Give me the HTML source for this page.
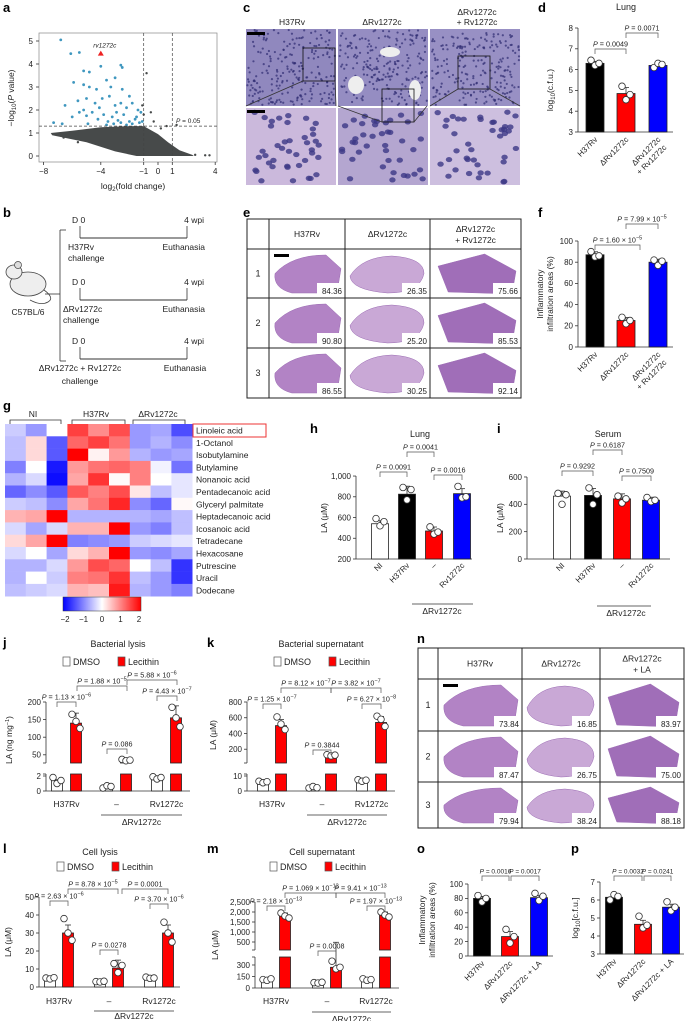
<!DOCTYPE html>
<html><head><meta charset="utf-8">
<style>
html,body{margin:0;padding:0;background:#fff;}
svg{display:block;font-family:"Liberation Sans",Arial,sans-serif;}
</style></head>
<body>
<svg id="fig" width="685" height="1021" viewBox="0 0 685 1021"></svg>
<script>
// ---------- data ----------
const volcanoBlue=[[-6.8,5.05],[-6.1,4.45],[-5.5,4.5],[-5.2,3.7],[-4.8,3.65],[-4.0,3.9],[-2.5,3.85],[-2.6,3.95],[-5.9,3.2],[-5.2,3.1],[-4.8,3.0],[-4.3,2.9],[-3.6,3.3],[-3.3,3.0],[-3.0,3.4],[-2.5,2.9],[-2.0,2.6],[-6.5,2.2],[-5.6,2.4],[-5.0,2.5],[-4.4,2.3],[-3.9,2.5],[-3.4,2.6],[-3.0,2.2],[-2.6,2.3],[-2.2,2.1],[-1.8,2.3],[-1.4,2.0],[-1.2,1.9],[-7.3,1.45],[-6.7,1.4],[-6.0,1.7],[-5.5,1.9],[-5.0,1.75],[-4.6,1.9],[-4.2,1.6],[-3.8,1.8],[-3.5,1.5],[-3.2,1.7],[-2.8,1.55],[-2.4,1.8],[-2.0,1.5],[-1.6,1.6],[-1.3,1.45],[-4.9,1.4],[-3.6,1.35],[-2.2,1.35],[-1.8,1.4],[-1.5,1.7],[-2.9,1.9],[-4.1,2.1],[-5.2,2.0],[-3.1,1.4],[-2.6,1.45],[-1.1,1.5]];
const volcanoGrey=[[-0.8,3.6],[-1.1,2.2],[-0.5,1.9],[-1.0,1.8],[0.2,1.2],[0.6,1.3],[2.6,0.05],[3.3,0.03],[3.6,0.03],[-7.2,0.95],[-6.6,0.8],[-5.6,0.6],[1.3,1.35],[-0.3,1.5]];
const volcanoCloud=[[-7.5,1.0],[-6,1.1],[-4,1.25],[-2,1.3],[-1,1.3],[0,0.95],[0.7,0.6],[1.5,0.25],[2.4,0.05],[2.5,0],[-1.5,0],[-3,0.2],[-5,0.6],[-7.4,0.9]];
const volcanoHit=[-4.0,4.45];

const heatRows=["Linoleic acid","1-Octanol","Isobutylamine","Butylamine","Nonanoic acid","Pentadecanoic acid","Glyceryl palmitate","Heptadecanoic acid","Icosanoic acid","Tetradecane","Hexacosane","Putrescine","Uracil","Dodecane"];
const heatVals=[
[-0.4,-0.8,0,1.5,0.9,1.4,-0.8,-0.7,-1.4],
[-0.5,0.3,-1.3,1.2,1.5,1.1,-0.8,-0.6,-0.9],
[-0.5,0.3,-1.3,2,0.1,0.8,-0.6,-0.8,-0.7],
[-1.0,0,-1.8,0.8,1.1,1.2,1.0,-0.1,-1.1],
[-0.6,-0.3,-1.9,0.7,1.6,0.05,1.0,0,-0.2],
[-1.2,-0.9,-1.3,1.3,1.0,1.4,0.2,-0.5,-0.2],
[-0.4,-0.5,-0.9,0.7,1.1,1.7,-0.9,-1.2,0.05],
[0.6,0.7,2.0,-0.6,-0.6,-0.6,-0.6,-0.7,-0.5],
[-0.3,-0.7,-0.3,0.6,0.6,2.0,-0.8,-1.0,-0.5],
[0.3,0.7,2.0,-1.0,-0.9,-0.8,-0.4,-0.3,-0.2],
[-0.3,0,-0.7,0.3,0.6,2.0,-0.8,-0.9,-0.7],
[-0.6,-0.6,-0.3,0.8,1.4,1.2,0,-0.5,-1.6],
[-0.6,0,-0.4,1.0,1.1,1.6,-0.5,-0.8,-1.6],
[-0.5,-0.4,-0.3,0.6,0.5,1.8,-0.6,-0.8,-1.0]];

const dMeans=[6.3,4.85,6.2]; const dPts=[[6.45,6.2,6.3],[5.2,4.55,4.8],[6.1,6.3,6.25]];
const fMeans=[87,25,80]; const fPts=[[90,85,86],[28,22,25],[82,77,81]];
const hMeans=[540,825,470,830]; const hPts=[[590,520,560],[890,770,870],[510,440,460],[900,790,800]];
const iMeans=[460,465,440,430]; const iPts=[[480,400,470],[520,400,470],[460,410,440],[450,420,430]];
const jDmso=[1.5,0.6,1.8]; const jLec=[140,35,155]; const jDpts=[[1.8,1.0,1.4],[0.4,0.7,0.6],[1.9,1.6,1.8]]; const jLpts=[[165,145,125],[37,33,35],[185,155,130]];
const kDmso=[6,2.5,7]; const kLec=[500,120,540]; const kDpts=[[6.5,5.5,6.2],[2,3,2.2],[7.5,6.5,7.2]]; const kLpts=[[610,520,450],[130,115,125],[620,580,490]];
const lDmso=[5,3,5]; const lLec=[30,10.5,30]; const lDpts=[[5,4.5,5.2],[3,2.8,3.2],[5.5,4.8,5]]; const lLpts=[[38,30,26],[13,8,12],[36,30,25]];
const mDmso=[110,70,110]; const mLec=[1800,270,1850]; const mDpts=[[110,100,120],[70,65,75],[120,100,110]]; const mLpts=[[1950,1800,1700],[350,250,270],[2000,1850,1750]];
const oMeans=[80,27,81]; const oPts=[[84,75,80],[37,18,27],[87,77,83]];
const pMeans=[6.15,4.65,5.6]; const pPts=[[6.0,6.3,6.2],[5.1,4.45,4.6],[5.9,5.4,5.6]];
const eScores=[[84.36,26.35,75.66],[90.80,25.20,85.53],[86.55,30.25,92.14]];
const nScores=[[73.84,16.85,83.97],[87.47,26.75,75.00],[79.94,38.24,88.18]];

// ---------- helpers ----------
const NS='http://www.w3.org/2000/svg';
const svg=document.getElementById('fig');
function mk(tag,attrs,name,parent){
  const el=document.createElementNS(NS,tag);
  for(const k in attrs) el.setAttribute(k,attrs[k]);
  
  
  (parent||svg).appendChild(el);
  return el;
}
function txt(x,y,html,name,fs,anchor,extra){
  const a={x:x,y:y,'font-size':fs||8,'text-anchor':anchor||'middle',fill:'#222'};
  if(extra) for(const k in extra) a[k]=extra[k];
  const t=mk('text',a,name);
  t.innerHTML=html;
  return t;
}
function sup(s){return '<tspan dy="-3" font-size="5.5">'+s+'</tspan>';}
function P(v){return '<tspan font-style="italic">P</tspan> = '+v;}
function Pe(m,e){return P(m+' × 10'+sup(e));}
function line(x1,y1,x2,y2,name,w,col,dash){
  const a={x1:x1,y1:y1,x2:x2,y2:y2,stroke:col||'#333','stroke-width':w||0.8};
  if(dash) a['stroke-dasharray']=dash;
  return mk('line',a,name);
}
function letter(x,y,s){txt(x,y,s,'panel-label-'+s,13,'start',{'font-weight':'bold',fill:'#000'});}
function bracket(x1,x2,y,label,name,fs){
  mk('path',{d:`M${x1},${y+5}V${y}H${x2}V${y+5}`,fill:'none',stroke:'#555','stroke-width':0.7},name+'-bracket');
  txt((x1+x2)/2,y-2.5,label,name+'-label',fs||7.2);
}
function dot(x,y,name){mk('circle',{cx:x,cy:y,r:3.3,fill:'#fff',stroke:'#333','stroke-width':0.8},name);}
function yAxis(x,ys,vals,labels,name,y0,y1){
  line(x,y0,x,y1,name+'-line',0.8);
  vals.forEach((v,i)=>{const y=ys(v);line(x-3,y,x,y,name+'-tick');txt(x-5,y+2.8,labels[i],name+'-tick-label',8,'end');});
}
function bar(cx,w,ytop,ybase,color,name){
  mk('rect',{x:cx-w/2,y:Math.min(ytop,ybase),width:w,height:Math.abs(ybase-ytop),fill:color,stroke:'#222','stroke-width':0.8},name);
}
function errBar(cx,ym,ye,name){line(cx,ym,cx,ye,name,0.8);line(cx-3,ye,cx+3,ye,name+'-cap',0.8);}
function pts(cx,ys,vals,name){const off=[-4,0,4];vals.forEach((v,i)=>dot(cx+off[i],ys(v),name));}
function rotLabel(x,y,s,name,fs){txt(x,y,s,name,fs||8,'end',{transform:`rotate(-45 ${x} ${y})`});}
function simpleBars(cfg){
  cfg.means.forEach((m,i)=>{
    const cx=cfg.xs[i];
    errBar(cx,cfg.y(m),cfg.y(m)-cfg.err[i],cfg.name+'-error');
    bar(cx,cfg.w,cfg.y(m),cfg.base,cfg.colors[i],cfg.name+'-bar-'+i);
    pts(cx,cfg.y,cfg.pts[i],cfg.name+'-point');
  });
}
// decorative texture hash (not chart data)
function hsh(a,b){const s=Math.sin(a*12.9898+b*78.233)*43758.5453;return s-Math.floor(s);}

// ---------- panel a: volcano ----------
letter(3,12,'a');
const aX=v=>158+v*14.3, aY=v=>156-v*23;
mk('rect',{x:39,y:33,width:178,height:129,fill:'none',stroke:'#888','stroke-width':0.7},'volcano-plot-frame');
mk('path',{d:'M'+volcanoCloud.map(p=>aX(p[0])+','+aY(p[1])).join('L')+'Z',fill:'#474a4a'},'volcano-nonsignificant-cloud');
volcanoGrey.forEach(p=>mk('circle',{cx:aX(p[0]),cy:aY(p[1]),r:1.2,fill:'#474a4a'},'volcano-grey-point'));
volcanoBlue.forEach(p=>mk('circle',{cx:aX(p[0]),cy:aY(p[1]),r:1.4,fill:'#3f97bf'},'volcano-blue-point'));
{const x=aX(volcanoHit[0]),y=aY(volcanoHit[1]);mk('path',{d:`M${x},${y-3}L${x+3},${y+2}L${x-3},${y+2}Z`,fill:'#e22'},'rv1272c-marker');}
txt(aX(-4)+4,aY(4.45)-6,'<tspan font-style="italic">rv1272c</tspan>','rv1272c-label',6.5);
line(aX(-1),33,aX(-1),162,'fold-threshold-left',0.7,'#444','3,2');
line(aX(1),33,aX(1),162,'fold-threshold-right',0.7,'#444','3,2');
line(39,aY(1.3),217,aY(1.3),'p-threshold-line',0.7,'#444','3,2');
txt(176,123,P('0.05'),'p-threshold-label',6.5,'start');
[0,1,2,3,4,5].forEach(v=>{line(36,aY(v),39,aY(v),'volcano-y-tick');txt(33,aY(v)+2.8,v,'volcano-y-tick-label',8,'end');});
[-8,-4,-1,0,1,4].forEach(v=>{line(aX(v),162,aX(v),165,'volcano-x-tick');txt(aX(v),174,v<0?'−'+Math.abs(v):v,'volcano-x-tick-label',8);});
txt(133,189,'log'+'<tspan dy="2" font-size="6">2</tspan><tspan dy="-2">(fold change)</tspan>','volcano-x-title',8.5);
txt(14,98,'−log'+'<tspan dy="2" font-size="6">10</tspan><tspan dy="-2">(</tspan><tspan font-style="italic">P</tspan> value)','volcano-y-title',8.5,'middle',{transform:'rotate(-90 14 98)'});

// ---------- panel c: histology ----------
letter(243,12,'c');
txt(292,25,'H37Rv','c-col-h37rv',8.5);txt(382,25,'ΔRv1272c','c-col-mutant',8.5);
txt(477,15,'ΔRv1272c','c-col-comp',8.5);txt(477,25,'+ Rv1272c','c-col-comp2',8.5);
const cCols=[246,338,430];
cCols.forEach((x,i)=>{
  mk('rect',{x:x,y:29,width:90,height:77,fill:['#9088be','#958dc2','#9890c4'][i]},'histology-low-mag-'+i);
  for(let k=1;k<220;k++){mk('circle',{cx:x+1+hsh(k,i+1)*88,cy:30+hsh(k+500,i+7)*75,r:1.1,fill:'#2f2c72',opacity:0.7},'cell-dot');}
  mk('rect',{x:x,y:108,width:90,height:77,fill:['#cbb9dc','#b4a6d0','#cdbfdf'][i]},'histology-high-mag-'+i);
  for(let k=1;k<42;k++){mk('ellipse',{cx:x+4+hsh(k+900,i+3)*82,cy:112+hsh(k+1300,i+11)*70,rx:3.2,ry:2.6,fill:'#3c3886',opacity:0.8},'nucleus');}
});
mk('ellipse',{cx:390,cy:52,rx:10,ry:5,fill:'#eee'},'airspace');mk('ellipse',{cx:356,cy:85,rx:8,ry:9,fill:'#eee'},'airspace');mk('ellipse',{cx:415,cy:90,rx:6,ry:10,fill:'#eee'},'airspace');
mk('rect',{x:303,y:48,width:32,height:33,fill:'none',stroke:'#111','stroke-width':0.8},'inset-box-1');
mk('rect',{x:382,y:89,width:32,height:33,fill:'none',stroke:'#111','stroke-width':0.8},'inset-box-2');
mk('rect',{x:458,y:56,width:32,height:33,fill:'none',stroke:'#111','stroke-width':0.8},'inset-box-3');
line(303,81,246,106,'inset-line');line(335,81,336,106,'inset-line');
line(382,122,338,106,'inset-line');line(414,122,427,106,'inset-line');
line(458,89,430,106,'inset-line');line(490,89,520,106,'inset-line');
mk('rect',{x:247,y:32,width:18,height:3,fill:'#000'},'scale-bar');mk('rect',{x:247,y:110,width:18,height:3,fill:'#000'},'scale-bar-2');

// ---------- panel d ----------
letter(538,12,'d');txt(626,10,'Lung','d-title',9);
const dY=v=>132-(v-3)*20.8;
yAxis(578,dY,[3,4,5,6,7,8],['3','4','5','6','7','8'],'d-y-axis',dY(8),dY(3));
line(578,132,673,132,'d-x-axis');
simpleBars({means:dMeans,pts:dPts,xs:[595,626,658],w:18,y:dY,base:132,colors:['#000','#f00','#00f'],err:[2,6,2],name:'d'});
bracket(595,626,49,P('0.0049'),'d-p1');bracket(626,658,33,P('0.0071'),'d-p2');
txt(553,90,'log<tspan dy="2" font-size="6">10</tspan><tspan dy="-2">(c.f.u.)</tspan>','d-y-title',8.5,'middle',{transform:'rotate(-90 553 90)'});
rotLabel(598,140,'H37Rv','d-x-h37rv');rotLabel(629,140,'ΔRv1272c','d-x-mutant');rotLabel(661,140,'ΔRv1272c','d-x-comp');rotLabel(667,148,'+ Rv1272c','d-x-comp2');

// ---------- panel b ----------
letter(3,217,'b');
line(60,230,60,361,'b-tree-line');line(60,230,66,230,'b-tree-top');line(60,361,66,361,'b-tree-bottom');line(45,294,60,294,'b-tree-stem');
[[238,'H37Rv','challenge'],[300,'ΔRv1272c','challenge'],[359,'ΔRv1272c + Rv1272c','challenge']].forEach((r,i)=>{
  const y=r[0];
  txt(72,y-15,'D 0','b-day0-'+i,8.5,'start');txt(204,y-15,'4 wpi','b-4wpi-'+i,8.5,'end');
  line(80,y-12,80,y,'b-arrow-start-'+i);line(187,y-12,187,y,'b-arrow-end-'+i);
  line(80,y,187,y,'b-timeline-'+i,1);
  if(i<2){txt(i?63:68,y+12,r[1],'b-strain-'+i,8.5,'start');txt(i?63:68,y+23,r[2],'b-challenge-'+i,8.5,'start');txt(205,y+12,'Euthanasia','b-euth-'+i,8.5,'end');}
  else{txt(80,y+12,r[1],'b-strain-'+i,8.5);txt(80,y+25,r[2],'b-challenge-'+i,8.5);txt(185,y+12,'Euthanasia','b-euth-'+i,8.5);}
});
mk('ellipse',{cx:28,cy:284,rx:18,ry:12,fill:'#eee',stroke:'#444','stroke-width':0.8},'mouse-body');
mk('ellipse',{cx:14,cy:272,rx:8,ry:7,fill:'#eee',stroke:'#444','stroke-width':0.8},'mouse-head');
mk('circle',{cx:18,cy:265,r:3.5,fill:'#ddd',stroke:'#444','stroke-width':0.7},'mouse-ear');
mk('path',{d:'M44,290 Q55,298 48,302 T30,300',fill:'none',stroke:'#444','stroke-width':0.8},'mouse-tail');
txt(28,315,'C57BL/6','b-mouse-label',8.5);

// ---------- panels e and n: lung tables ----------
function lungTable(cols,rows,hdr,scores,name){
  mk('rect',{x:cols[0],y:rows[0],width:cols[4]-cols[0],height:rows[4]-rows[0],fill:'none',stroke:'#222','stroke-width':1},name+'-frame');
  cols.slice(1,4).forEach(c=>line(c,rows[0],c,rows[4],name+'-col-line',1,'#222'));
  rows.slice(1,4).forEach(r=>line(cols[0],r,cols[4],r,name+'-row-line',1,'#222'));
  hdr.forEach((h,i)=>{const cx=(cols[i+1]+cols[i+2])/2;const my=(rows[0]+rows[1])/2;
    if(h.length===1)txt(cx,my+3,h[0],name+'-header-'+i,8.5);else{txt(cx,my-2,h[0],name+'-header-'+i,8.5);txt(cx,my+9,h[1],name+'-header-'+i+'b',8.5);}});
  for(let r=0;r<3;r++){
    txt((cols[0]+cols[1])/2,(rows[r+1]+rows[r+2])/2+3,r+1,name+'-row-label',9);
    for(let c=0;c<3;c++){
      const x1=cols[c+1],x2=cols[c+2],y1=rows[r+1],y2=rows[r+2];const w=x2-x1,h=y2-y1;
      const s=(r*3+c)%3;
      const pth=s===0?`M${x1+6},${y1+h*0.5} Q${x1+w*0.3},${y1+6} ${x1+w*0.75},${y1+6} L${x2-4},${y1+h*0.4} L${x2-8},${y2-5} L${x1+w*0.3},${y2-5} Q${x1+4},${y2-10} ${x1+6},${y1+h*0.5}Z`
        :s===1?`M${x1+5},${y1+h*0.55} Q${x1+w*0.2},${y1+8} ${x1+w*0.55},${y1+7} Q${x2-6},${y1+9} ${x2-6},${y1+h*0.5} Q${x2-10},${y2-5} ${x1+w*0.5},${y2-5} Q${x1+6},${y2-8} ${x1+5},${y1+h*0.55}Z`
        :`M${x1+8},${y1+h*0.35} L${x1+w*0.6},${y1+5} L${x2-5},${y1+h*0.45} L${x2-9},${y2-4} L${x1+w*0.2},${y2-6} Z`;
      mk('path',{d:pth,fill:['#b283c5','#c9a8d6','#a06eb8'][c],stroke:'#9b6cb3','stroke-width':0.5},name+'-lung-section');
      mk('rect',{x:x2-28,y:y2-15,width:27,height:14,fill:'#fff'},name+'-score-box');
      txt(x2-3,y2-4,scores[r][c].toFixed(2),name+'-score',8,'end');
    }
  }
  mk('rect',{x:cols[1]+5,y:rows[1]+5,width:15,height:3,fill:'#000'},name+'-scale-bar');
}
letter(243,217,'e');
lungTable([247,269,345,430,521],[219,249,298,348,398],[['H37Rv'],['ΔRv1272c'],['ΔRv1272c','+ Rv1272c']],eScores,'e');
letter(417,643,'n');
lungTable([418,438,522,600,684],[648,679,731,782,828],[['H37Rv'],['ΔRv1272c'],['ΔRv1272c','+ LA']],nScores,'n');

// ---------- panel f ----------
letter(538,217,'f');
const fY=v=>347-v*1.06;
yAxis(578,fY,[0,20,40,60,80,100],['0','20','40','60','80','100'],'f-y-axis',fY(100),fY(0));
line(578,347,673,347,'f-x-axis');
simpleBars({means:fMeans,pts:fPts,xs:[595,626,658],w:18,y:fY,base:347,colors:['#000','#f00','#00f'],err:[3,3,3],name:'f'});
bracket(595,640,245,Pe('1.60','−5'),'f-p1');bracket(626,658,224,Pe('7.99','−5'),'f-p2');
txt(543,294,'Inflammatory','f-y-title',8.5,'middle',{transform:'rotate(-90 543 294)'});
txt(553,294,'infiltration areas (%)','f-y-title-2',8.5,'middle',{transform:'rotate(-90 553 294)'});
rotLabel(598,355,'H37Rv','f-x-h37rv');rotLabel(629,355,'ΔRv1272c','f-x-mutant');rotLabel(661,355,'ΔRv1272c','f-x-comp');rotLabel(667,363,'+ Rv1272c','f-x-comp2');

// ---------- panel g heatmap ----------
letter(3,410,'g');
[['NI',33,10,61],['H37Rv',96,72,125],['ΔRv1272c',158,133,185]].forEach((g,i)=>{
  txt(g[1],417,g[0],'g-group-label-'+i,8.5);
  mk('path',{d:`M${g[2]},${425}V${420}H${g[3]}V${425}`,fill:'none',stroke:'#333','stroke-width':0.8},'g-group-bracket-'+i);
});
function hcol(v){const t=Math.max(-1,Math.min(1,v/2));
  if(t>=0){const g=Math.round(255*(1-t));return `rgb(255,${g},${g})`;}
  const g=Math.round(255*(1+t));return `rgb(${g},${g},255)`;}
const hx=5,hw=20.8,hy=424,hh=12.3;
heatVals.forEach((row,r)=>{
  row.forEach((v,c)=>mk('rect',{x:hx+c*hw,y:hy+r*hh,width:hw+0.3,height:hh+0.3,fill:hcol(v)},'heat-cell'));
  txt(196,hy+r*hh+9.5,heatRows[r],'heat-row-label',8.5,'start');
});
mk('rect',{x:193,y:424,width:73,height:13,fill:'none',stroke:'#e33','stroke-width':1},'linoleic-highlight');
const cbar=mk('defs',{},'colorbar-defs');
cbar.innerHTML='<linearGradient id="cb"><stop offset="0" stop-color="#00f"/><stop offset="0.5" stop-color="#fff"/><stop offset="1" stop-color="#f00"/></linearGradient>';
mk('rect',{x:63,y:597,width:78,height:14,fill:'url(#cb)',stroke:'#333','stroke-width':0.5},'colorbar');
[-2,-1,0,1,2].forEach((v,i)=>txt(65+i*18.5,622,v<0?'−'+(-v):v,'colorbar-tick',8));

// ---------- panel h ----------
letter(310,433,'h');txt(420,437,'Lung','h-title',9);
const hY=v=>559-(v-200)*0.1037;
yAxis(356,hY,[200,400,600,800,1000],['200','400','600','800','1,000'],'h-y-axis',hY(1000),hY(200));
line(356,559,472,559,'h-x-axis');
simpleBars({means:hMeans,pts:hPts,xs:[380,407,434,462],w:17,y:hY,base:559,colors:['#fff','#000','#f00','#00f'],err:[3,8,4,5],name:'h'});
bracket(380,407,472,P('0.0091'),'h-p1');bracket(407,434,452,P('0.0041'),'h-p2');bracket(434,462,475,P('0.0016'),'h-p3');
txt(327,518,'LA (μM)','h-y-title',8.5,'middle',{transform:'rotate(-90 327 518)'});
rotLabel(383,566,'NI','h-x-ni');rotLabel(410,566,'H37Rv','h-x-h37rv');rotLabel(437,566,'–','h-x-minus');rotLabel(465,566,'Rv1272c','h-x-comp');
line(412,604,473,604,'h-group-line');txt(442,614,'ΔRv1272c','h-group-label',8.5);

// ---------- panel i ----------
letter(497,433,'i');txt(608,437,'Serum','i-title',9);
const iY=v=>559-v*0.1367;
yAxis(527,iY,[0,200,400,600],['0','200','400','600'],'i-y-axis',iY(600),iY(0));
line(527,559,670,559,'i-x-axis');
simpleBars({means:iMeans,pts:iPts,xs:[562,593,622,651],w:17,y:iY,base:559,colors:['#fff','#000','#f00','#00f'],err:[5,7,5,3],name:'i'});
bracket(562,593,471,P('0.9292'),'i-p1');bracket(593,622,450,P('0.6187'),'i-p2');bracket(622,651,476,P('0.7509'),'i-p3');
txt(503,518,'LA (μM)','i-y-title',8.5,'middle',{transform:'rotate(-90 503 518)'});
rotLabel(565,566,'NI','i-x-ni');rotLabel(596,566,'H37Rv','i-x-h37rv');rotLabel(625,566,'–','i-x-minus');rotLabel(654,566,'Rv1272c','i-x-comp');
line(597,606,651,606,'i-group-line');txt(626,616,'ΔRv1272c','i-group-label',8.5);

// ---------- broken axis grouped charts ----------
function legend(x,y,name){
  mk('rect',{x:x,y:y-8,width:7,height:9,fill:'#fff',stroke:'#555','stroke-width':0.7},name+'-legend-dmso-swatch');
  txt(x+10,y,'DMSO','legend-dmso',9,'start');
  mk('rect',{x:x+55,y:y-8,width:7,height:9,fill:'#f00',stroke:'#555','stroke-width':0.7},name+'-legend-lecithin-swatch');
  txt(x+65,y,'Lecithin','legend-lecithin',9,'start');
}
function grouped(c){
  line(c.ax,c.yu(c.uTop),c.ax,c.uBot,c.name+'-y-axis-upper');line(c.ax-3,c.uBot,c.ax,c.uBot,c.name+'-break-tick');
  line(c.ax,c.lTop,c.ax,c.yl(0),c.name+'-y-axis-lower');line(c.ax-3,c.lTop,c.ax,c.lTop,c.name+'-break-tick');
  c.uTicks.forEach((v,i)=>{line(c.ax-3,c.yu(v),c.ax,c.yu(v),c.name+'-tick');txt(c.ax-5,c.yu(v)+2.8,c.uLab[i],c.name+'-tick-label',8,'end');});
  c.lTicks.forEach((v,i)=>{line(c.ax-3,c.yl(v),c.ax,c.yl(v),c.name+'-tick');txt(c.ax-5,c.yl(v)+2.8,c.lLab[i],c.name+'-tick-label',8,'end');});
  line(c.ax,c.yl(0),c.xs[5]+14,c.yl(0),c.name+'-x-axis');
  for(let g=0;g<3;g++){
    const xd=c.xs[g*2],xl=c.xs[g*2+1];
    bar(xd,c.w,c.yl(c.dmso[g]),c.yl(0),'#fff',c.name+'-dmso-bar');
    pts(xd,c.yl,c.dpts[g],c.name+'-dmso-point');
    const m=c.lec[g];
    if(m>c.brk){
      bar(xl,c.w,c.lTop,c.yl(0),'#f00',c.name+'-lecithin-bar-lower');
      bar(xl,c.w,c.yu(m),c.uBot,'#f00',c.name+'-lecithin-bar-upper');
      errBar(xl,c.yu(m),c.yu(m)-c.err[g],c.name+'-lecithin-error');
      pts(xl,c.yu,c.lpts[g],c.name+'-lecithin-point');
    } else if(c.smallInUpper){
      bar(xl,c.w,c.lTop,c.yl(0),'#f00',c.name+'-lecithin-bar-lower');
      pts(xl,c.yu,c.lpts[g],c.name+'-lecithin-point');
    } else {
      bar(xl,c.w,c.yl(m),c.yl(0),'#f00',c.name+'-lecithin-bar');
      errBar(xl,c.yl(m),c.yl(m)-c.err[g],c.name+'-lecithin-error');
      pts(xl,c.yl,c.lpts[g],c.name+'-lecithin-point');
    }
  }
  const ly=c.yl(0);
  txt((c.xs[0]+c.xs[1])/2,ly+16,'H37Rv',c.name+'-x-h37rv',8.5);
  txt((c.xs[2]+c.xs[3])/2,ly+16,'–',c.name+'-x-minus',8.5);
  txt((c.xs[4]+c.xs[5])/2,ly+16,'Rv1272c',c.name+'-x-comp',8.5);
  line(c.xs[2]-6,ly+24,c.xs[5]+6,ly+24,c.name+'-group-line');
  txt((c.xs[2]+c.xs[5])/2,ly+34,'ΔRv1272c',c.name+'-group-label',8.5);
}

// j
letter(3,647,'j');txt(118,647,'Bacterial lysis','j-title',9);legend(63,665,'j');
grouped({name:'j',ax:46,xs:[57,76,107,126,157,176],w:11,yu:v=>702+(200-v)*0.352,yl:v=>791-v*7.5,brk:3,uTop:200,uBot:763,lTop:774,
 uTicks:[50,100,150,200],uLab:['50','100','150','200'],lTicks:[0,2],lLab:['0','2'],dmso:jDmso,lec:jLec,dpts:jDpts,lpts:jLpts,err:[10,0,12],smallInUpper:true});
bracket(57,76,702,Pe('1.13','−6'),'j-p1');bracket(77,127,686,Pe('1.88','−5'),'j-p2');bracket(127,177,680,Pe('5.88','−6'),'j-p3');
bracket(157,177,696,Pe('4.43','−7'),'j-p4');bracket(107,127,749,P('0.086'),'j-p5');
txt(12,740,'LA (ng mg<tspan dy="-3" font-size="5.5">−1</tspan><tspan dy="3">)</tspan>','j-y-title',8.5,'middle',{transform:'rotate(-90 12 740)'});

// k
letter(207,647,'k');txt(321,647,'Bacterial supernatant','k-title',9);legend(274,665,'k');
grouped({name:'k',ax:247,xs:[263,281,313,331,362,381],w:11,yu:v=>702+(800-v)*0.0787,yl:v=>791-v*1.5,brk:15,uTop:800,uBot:763,lTop:774,
 uTicks:[200,400,600,800],uLab:['200','400','600','800'],lTicks:[0,10],lLab:['0','10'],dmso:kDmso,lec:kLec,dpts:kDpts,lpts:kLpts,err:[6,0,6],smallInUpper:true});
bracket(263,281,704,Pe('1.25','−7'),'k-p1');bracket(281,331,688,Pe('8.12','−7'),'k-p2');bracket(331,381,688,Pe('3.82','−7'),'k-p3');
bracket(362,381,704,Pe('6.27','−8'),'k-p4');bracket(313,331,750,P('0.3844'),'k-p5');
txt(216,735,'LA (μM)','k-y-title',8.5,'middle',{transform:'rotate(-90 216 735)'});

// l (single axis)
letter(3,853,'l');txt(100,855,'Cell lysis','l-title',9);legend(57,870,'l');
{const lY=v=>987-v*1.8;
 yAxis(39,lY,[0,10,20,30,40,50],['0','10','20','30','40','50'],'l-y-axis',lY(50),lY(0));
 line(39,987,180,987,'l-x-axis');
 const xs=[50,68,100,118,150,168];
 for(let g=0;g<3;g++){
   bar(xs[g*2],11,lY(lDmso[g]),987,'#fff','l-dmso-bar');pts(xs[g*2],lY,lDpts[g],'l-dmso-point');
   errBar(xs[g*2+1],lY(lLec[g]),lY(lLec[g])-8,'l-lecithin-error');
   bar(xs[g*2+1],11,lY(lLec[g]),987,'#f00','l-lecithin-bar');pts(xs[g*2+1],lY,lLpts[g],'l-lecithin-point');
 }
 txt(59,1004,'H37Rv','l-x-h37rv',8.5);txt(109,1004,'–','l-x-minus',8.5);txt(159,1004,'Rv1272c','l-x-comp',8.5);
 line(94,1011,174,1011,'l-group-line');txt(134,1019,'ΔRv1272c','l-group-label',8.5);
 bracket(50,68,901,Pe('2.63','−6'),'l-p1');bracket(68,118,889,Pe('8.78','−5'),'l-p2');bracket(122,168,889,P('0.0001'),'l-p3');
 bracket(150,168,904,Pe('3.70','−6'),'l-p4');bracket(100,118,950,P('0.0278'),'l-p5');
 txt(11,942,'LA (μM)','l-y-title',8.5,'middle',{transform:'rotate(-90 11 942)'});}

// m
letter(207,853,'m');txt(322,855,'Cell supernatant','m-title',9);legend(270,870,'m');
grouped({name:'m',ax:255,xs:[267,285,318,336,367,385],w:11,yu:v=>942-(v-500)*0.02,yl:v=>988-v*0.0767,brk:400,uTop:2500,uBot:950,lTop:957,
 uTicks:[500,1000,1500,2000,2500],uLab:['500','1,000','1,500','2,000','2,500'],lTicks:[0,150,300],lLab:['0','150','300'],dmso:mDmso,lec:mLec,dpts:mDpts,lpts:mLpts,err:[3,25,3]});
bracket(267,285,906,Pe('2.18','−13'),'m-p1');bracket(285,336,893,Pe('1.069','−12'),'m-p2');bracket(336,385,893,Pe('9.41','−13'),'m-p3');
bracket(367,385,906,Pe('1.97','−13'),'m-p4');bracket(318,336,951,P('0.0008'),'m-p5');
txt(218,945,'LA (μM)','m-y-title',8.5,'middle',{transform:'rotate(-90 218 945)'});

// o
letter(417,853,'o');
const oY=v=>956-v*0.72;
yAxis(468,oY,[0,20,40,60,80,100],['0','20','40','60','80','100'],'o-y-axis',oY(100),oY(0));
line(468,956,553,956,'o-x-axis');
simpleBars({means:oMeans,pts:oPts,xs:[482,510,539],w:17,y:oY,base:956,colors:['#000','#f00','#00f'],err:[2,5,2],name:'o'});
bracket(482,509,876,P('0.0016'),'o-p1',6.5);bracket(511,539,876,P('0.0017'),'o-p2',6.5);
txt(425,920,'Inflammatory','o-y-title',8.5,'middle',{transform:'rotate(-90 425 920)'});
txt(435,920,'infiltration areas (%)','o-y-title-2',8.5,'middle',{transform:'rotate(-90 435 920)'});
rotLabel(485,964,'H37Rv','o-x-h37rv');rotLabel(513,964,'ΔRv1272c','o-x-mutant');rotLabel(542,964,'ΔRv1272c + LA','o-x-comp');

// p
letter(571,853,'p');
const pY=v=>954-(v-3)*18;
yAxis(600,pY,[3,4,5,6,7],['3','4','5','6','7'],'p-y-axis',pY(7),pY(3));
line(600,954,684,954,'p-x-axis');
simpleBars({means:pMeans,pts:pPts,xs:[614,643,671],w:17,y:pY,base:954,colors:['#000','#f00','#00f'],err:[2,4,3],name:'p'});
bracket(614,642,876,P('0.0032'),'p-p1',6.5);bracket(644,671,876,P('0.0241'),'p-p2',6.5);
txt(578,918,'log<tspan dy="2" font-size="6">10</tspan><tspan dy="-2">[c.f.u.]</tspan>','p-y-title',8.5,'middle',{transform:'rotate(-90 578 918)'});
rotLabel(617,962,'H37Rv','p-x-h37rv');rotLabel(646,962,'ΔRv1272c','p-x-mutant');rotLabel(674,962,'ΔRv1272c + LA','p-x-comp');
</script>
</body></html>
